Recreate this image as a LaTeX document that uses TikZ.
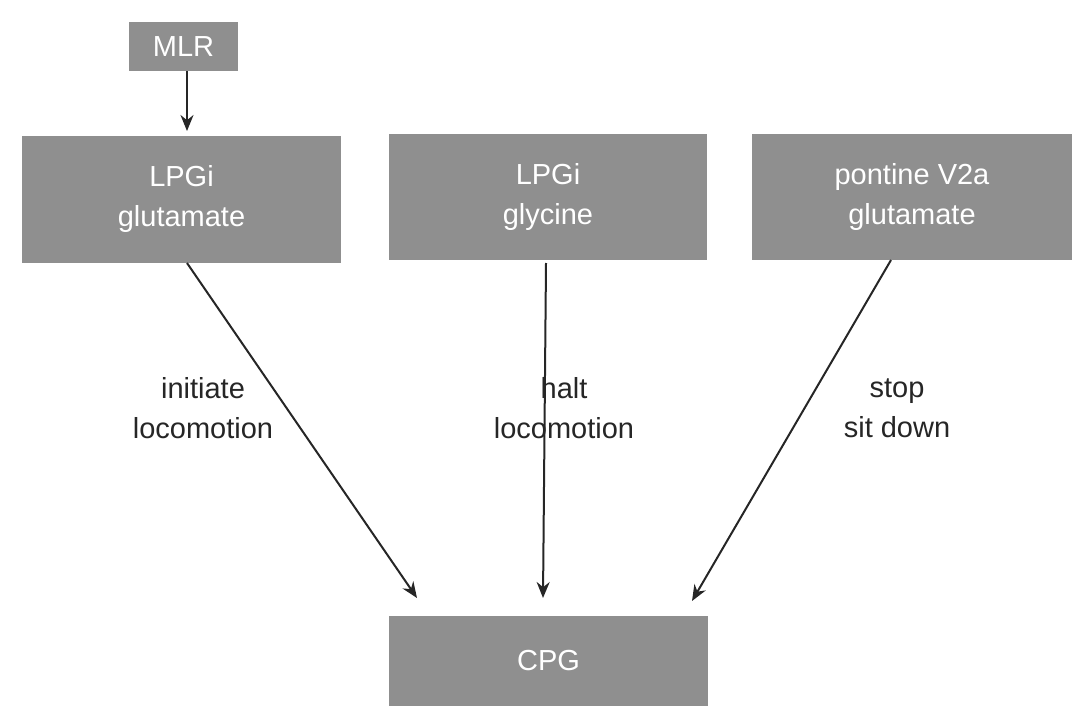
\documentclass[tikz,border=0pt]{standalone}
\usepackage{fontspec}
\setmainfont{Liberation Sans}
\usetikzlibrary{arrows.meta}
\definecolor{boxgray}{HTML}{8F8F8F}
\begin{document}
\begin{tikzpicture}[x=1pt,y=-1pt,
  box/.style={fill=boxgray,draw=none,text=white,align=center,inner sep=0pt,font=\fontsize{29}{40}\selectfont},
  lab/.style={align=center,font=\fontsize{29}{40}\selectfont,text=black!85},
  arr/.style={draw=black!85,line width=2pt,-{Stealth[length=16pt,width=13pt]}}]
\useasboundingbox (0,0) rectangle (1081,706);
\node[box,minimum width=109pt,minimum height=49pt] (mlr) at (183.5,46.5) {MLR};
\node[box,minimum width=319pt,minimum height=127pt] (glu) at (181.5,199.5) {LPGi\\glutamate};
\node[box,minimum width=318pt,minimum height=126pt] (gly) at (548,197) {LPGi\\glycine};
\node[box,minimum width=320pt,minimum height=126pt] (v2a) at (912,197) {pontine V2a\\glutamate};
\node[box,minimum width=319pt,minimum height=90pt] (cpg) at (548.5,661) {CPG};
\coordinate (a1) at (187,131);
\coordinate (s1) at (187,263);
\coordinate (e1) at (417,598);
\coordinate (s2) at (546,263);
\coordinate (e2) at (543,598);
\coordinate (s3) at (891,260);
\coordinate (e3) at (692,601);
\draw[arr] (mlr.south -| a1) -- (a1);
\draw[arr] (s1) -- (e1);
\draw[arr] (s2) -- (e2);
\draw[arr] (s3) -- (e3);
\node[lab] (l1) at (203,408) {initiate\\locomotion};
\node[lab] (l2) at (564,408) {halt\\locomotion};
\node[lab] (l3) at (897,408) {stop\\sit down};
\end{tikzpicture}
\end{document}
